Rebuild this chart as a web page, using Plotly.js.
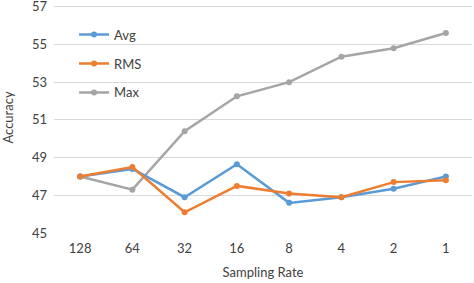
<!DOCTYPE html>
<html>
<head>
<meta charset="utf-8">
<script src="https://cdn.plot.ly/plotly-3.0.1.min.js"></script>
<style>
  html, body { margin: 0; padding: 0; background: #fff; }
  #chart { width: 474px; height: 283px; }
</style>
</head>
<body>
<div id="chart"></div>
<script>
// Sampling rates along the x axis
const samplingRates = ['128', '64', '32', '16', '8', '4', '2', '1'];

// Accuracy per pooling method
const avgAccuracy = [48.0, 48.4, 46.9, 48.65, 46.6, 46.9, 47.35, 48.0];
const rmsAccuracy = [48.0, 48.5, 46.1, 47.5, 47.1, 46.9, 47.7, 47.8];
const maxAccuracy = [48.0, 47.3, 50.4, 52.25, 53.0, 54.35, 54.8, 55.6];

// Y axis ticks
const yTicks = [45, 47, 49, 51, 53, 55, 57];

const fontFamily = 'Lato, "Open Sans", sans-serif';
const textColor = '#404040';

function series(name, values, color, rank) {
  return {
    type: 'scatter',
    mode: 'lines+markers',
    name: name,
    legendgroup: name,
    legendrank: rank,
    x: samplingRates,
    y: values,
    line: { color: color, width: 2.5 },
    marker: { color: color, size: 6 }
  };
}

// Max drawn first so the other series sit on top of it
const traces = [
  series('Max', maxAccuracy, '#A5A5A5', 3),
  series('Avg', avgAccuracy, '#5B9BD5', 1),
  series('RMS', rmsAccuracy, '#ED7D31', 2)
];

const layout = {
  width: 474,
  height: 283,
  // a little padding beyond 45 and 57 keeps both edge gridlines drawn
  margin: { l: 54, r: 2, t: 1.35, b: 49.06 },
  paper_bgcolor: '#fff',
  plot_bgcolor: '#fff',
  font: { family: fontFamily, size: 13, color: textColor },
  showlegend: true,
  legend: {
    x: 0.048, y: 0.92, xanchor: 'left', yanchor: 'top',
    bgcolor: 'rgba(0,0,0,0)',
    font: { family: fontFamily, size: 13, color: textColor },
    traceorder: 'grouped',
    tracegroupgap: 9,
    itemwidth: 30
  },
  xaxis: {
    type: 'category',
    categoryorder: 'array',
    categoryarray: samplingRates,
    range: [-0.5, 7.5],
    automargin: false,
    showgrid: false,
    showline: false,
    zeroline: false,
    ticks: '',
    ticklabelstandoff: 5,
    tickfont: { family: fontFamily, size: 13, color: textColor },
    title: { text: 'Sampling Rate', font: { family: fontFamily, size: 13, color: textColor }, standoff: 12 }
  },
  yaxis: {
    range: [44.95, 57.3],
    tickvals: yTicks,
    automargin: false,
    ticklabeloverflow: 'allow',
    showgrid: true,
    gridcolor: '#D9D9D9',
    gridwidth: 1,
    zeroline: false,
    showline: false,
    ticks: '',
    ticklabelstandoff: 6,
    tickfont: { family: fontFamily, size: 13, color: textColor },
    title: { text: 'Accuracy', font: { family: fontFamily, size: 13, color: textColor }, standoff: 17 }
  }
};

Plotly.newPlot('chart', traces, layout, { displayModeBar: false, staticPlot: true });
</script>
</body>
</html>
